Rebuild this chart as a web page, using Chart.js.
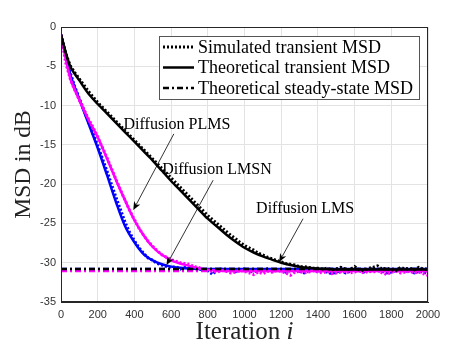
<!DOCTYPE html>
<html>
<head>
<meta charset="utf-8">
<script src="https://cdn.jsdelivr.net/npm/chart.js@4"></script>
<style>
  html, body { margin: 0; padding: 0; background: #fff; }
  #wrap { width: 474px; height: 348px; }
</style>
</head>
<body>
<div id="wrap"><canvas id="msdChart" width="474" height="348"></canvas></div>
<script>
// iterations
const itTheory = [0,50,100,150,200,250,300,350,400,450,500,550,600,650,700,750,800,850,900,950,1000,
  1050,1100,1150,1200,1250,1300,1350,1400,1450,1500,1550,1600,1650,1700,1750,1800,1850,1900,1950,2000];
const itSim = [];
for (let i = 0; i <= 2000; i += 25) itSim.push(i);

// theoretical transient MSD (dB)
const lmsTheory = [-1.0,-5.0,-6.8,-8.5,-9.8,-11.0,-12.2,-13.4,-14.6,-15.8,-17.0,-18.3,-19.6,-20.8,-22.0,-23.2,
  -24.4,-25.4,-26.4,-27.3,-28.1,-28.7,-29.2,-29.6,-30.0,-30.3,-30.5,-30.65,-30.75,-30.8,-30.85,
  -30.85,-30.85,-30.85,-30.85,-30.85,-30.85,-30.85,-30.85,-30.85,-30.85];
const lmsnTheory = [-1.0,-6.0,-9.2,-12.3,-15.4,-18.8,-22.3,-25.4,-27.4,-28.9,-29.7,-30.2,-30.5,-30.65,-30.75,-30.8,
  -30.8,-30.8,-30.8,-30.8,-30.8,-30.8,-30.8,-30.8,-30.8,-30.8,-30.8,-30.8,-30.8,-30.8,-30.8,
  -30.8,-30.8,-30.8,-30.8,-30.8,-30.8,-30.8,-30.8,-30.8,-30.8];
const plmsTheory = [-1.0,-6.5,-9.3,-11.8,-14.0,-16.7,-19.5,-22.1,-24.6,-26.5,-28.0,-29.0,-29.7,-30.1,-30.4,-30.7,
  -30.9,-31.0,-31.05,-31.05,-31.05,-31.05,-31.05,-31.05,-31.05,-31.05,-31.05,-31.05,-31.05,-31.05,-31.05,
  -31.05,-31.05,-31.05,-31.05,-31.05,-31.05,-31.05,-31.05,-31.05,-31.05];

// simulated transient MSD (dB), every 25 iterations
const lmsSim = [-1.0,-3.3,-4.9,-5.8,-6.6,-7.4,-8.2,-8.9,-9.6,-10.2,-10.8,-11.4,-12.0,-12.6,-13.2,-13.8,-14.4,-15.0,
  -15.6,-16.2,-16.8,-17.4,-18.0,-18.6,-19.2,-19.8,-20.4,-21.0,-21.6,-22.2,-22.8,-23.4,-24.0,-24.5,-25.0,-25.5,
  -26.0,-26.5,-26.9,-27.4,-27.8,-28.1,-28.4,-28.8,-29.0,-29.3,-29.5,-29.7,-29.9,-30.1,-30.2,-30.3,-30.5,-30.5,
  -30.6,-30.7,-30.7,-30.8,-30.7,-30.9,-30.8,-30.6,-30.8,-30.9,-30.5,-30.9,-31.0,-30.7,-30.6,-30.4,-30.8,-30.7,
  -30.9,-31.0,-30.6,-30.8,-30.7,-30.9,-30.6,-30.8,-30.9];
const lmsnSim = [-1.0,-3.8,-5.8,-7.6,-9.1,-10.6,-12.1,-13.6,-15.1,-16.7,-18.3,-20.0,-21.7,-23.3,-24.9,-26.2,-27.2,
  -28.1,-28.8,-29.4,-29.7,-30.1,-30.3,-30.5,-30.6,-30.5,-30.8,-30.6,-30.7,-30.9,-30.8,-30.9,-31.0,-31.5,-30.9,
  -30.8,-31.0,-30.9,-31.1,-31.0,-30.8,-31.0,-31.2,-30.9,-31.0,-30.8,-31.1,-30.9,-31.0,-31.2,-31.0,-30.8,-31.1,
  -31.3,-31.0,-30.9,-31.1,-30.9,-31.2,-31.4,-31.2,-31.0,-31.3,-31.1,-30.9,-31.0,-31.2,-30.9,-30.8,-31.0,-31.1,
  -31.3,-31.2,-31.0,-30.9,-31.1,-31.0,-31.3,-31.1,-31.2,-31.4];
const plmsSim = [-1.0,-4.5,-6.6,-8.0,-9.3,-10.5,-11.7,-12.8,-14.0,-15.3,-16.6,-18.0,-19.4,-20.8,-22.1,-23.4,-24.5,
  -25.6,-26.5,-27.3,-27.9,-28.5,-29.0,-29.3,-29.6,-29.8,-30.0,-30.1,-30.2,-30.5,-30.6,-30.8,-31.0,-31.1,-31.2,
  -31.0,-31.1,-31.3,-31.2,-31.0,-31.1,-31.3,-31.5,-31.2,-31.4,-31.1,-31.2,-31.0,-31.1,-31.3,-31.6,-31.2,-31.1,
  -31.3,-31.2,-31.0,-31.2,-31.3,-31.1,-31.4,-31.3,-31.2,-31.1,-31.3,-31.2,-31.0,-31.3,-31.1,-31.2,-31.0,-31.3,
  -31.5,-31.2,-31.1,-31.3,-31.2,-31.1,-31.3,-31.2,-31.4,-31.6];

// theoretical steady-state MSD (dB)
const itSteady = [0, 2000];
const lmsSteady = -30.8;
const lmsnSteady = -30.8;
const plmsSteady = -31.05;

const xTicks = [0,200,400,600,800,1000,1200,1400,1600,1800,2000];
const yTicks = [0,-5,-10,-15,-20,-25,-30,-35];

// annotations: label position and arrow (data coords)
const notes = [
  { text: "Diffusion PLMS", x: 632, y: -12.4, from: [615, -13.6], to: [394, -23.3] },
  { text: "Diffusion LMSN", x: 850, y: -18.2, from: [829, -19.5], to: [575, -30.3] },
  { text: "Diffusion LMS", x: 1330, y: -23.1, from: [1319, -24.4], to: [1189, -29.9] }
];

const legendItems = [
  { label: "Simulated transient MSD", dash: [2, 2], width: 3 },
  { label: "Theoretical transient MSD", dash: [], width: 2.5 },
  { label: "Theoretical steady-state MSD", dash: [6, 3, 2, 3], width: 2.5 }
];

const serif = "'Liberation Serif', 'DejaVu Serif', serif";
const sans = "'Liberation Sans', Arial, sans-serif";

function pts(xs, ys) { return xs.map((x, i) => ({ x: x, y: ys[i] })); }
function flat(v) { return itSteady.map(x => ({ x: x, y: v })); }

function sim(data, color) {
  return { data: data, borderColor: color, borderWidth: 3, borderDash: [2, 2], pointRadius: 0, tension: 0 };
}
function theory(data, color) {
  return { data: data, borderColor: color, borderWidth: 2.5, pointRadius: 0, tension: 0.3 };
}
function steady(data, color) {
  return { data: data, borderColor: color, borderWidth: 2.5, borderDash: [6, 3, 2, 3], pointRadius: 0 };
}

const overlay = {
  id: "overlay",
  beforeDraw(chart) {
    const ctx = chart.ctx;
    ctx.save();
    ctx.fillStyle = "#fff";
    ctx.fillRect(0, 0, chart.width, chart.height);
    ctx.restore();
  },
  afterDatasetsDraw(chart) {
    const ctx = chart.ctx;
    const xs = chart.scales.x, ys = chart.scales.y;
    const a = chart.chartArea;
    ctx.save();

    // box
    ctx.strokeStyle = "#262626";
    ctx.lineWidth = 1;
    ctx.strokeRect(a.left + 0.5, a.top + 0.5, a.right - a.left - 1, a.bottom - a.top - 1);

    // annotations
    ctx.fillStyle = "#000";
    ctx.strokeStyle = "#000";
    ctx.font = "16px " + serif;
    ctx.textAlign = "center";
    ctx.textBaseline = "middle";
    notes.forEach(n => {
      ctx.fillText(n.text, xs.getPixelForValue(n.x), ys.getPixelForValue(n.y));
      const x1 = xs.getPixelForValue(n.from[0]), y1 = ys.getPixelForValue(n.from[1]);
      const x2 = xs.getPixelForValue(n.to[0]), y2 = ys.getPixelForValue(n.to[1]);
      const ang = Math.atan2(y2 - y1, x2 - x1);
      ctx.lineWidth = 0.8;
      ctx.beginPath();
      ctx.moveTo(x1, y1);
      ctx.lineTo(x2 - 6 * Math.cos(ang), y2 - 6 * Math.sin(ang));
      ctx.stroke();
      ctx.beginPath();
      ctx.moveTo(x2, y2);
      ctx.lineTo(x2 - 9 * Math.cos(ang - 0.4), y2 - 9 * Math.sin(ang - 0.4));
      ctx.lineTo(x2 - 6 * Math.cos(ang), y2 - 6 * Math.sin(ang));
      ctx.lineTo(x2 - 9 * Math.cos(ang + 0.4), y2 - 9 * Math.sin(ang + 0.4));
      ctx.closePath();
      ctx.fill();
    });

    // legend box
    const lx = 159, ly = 36, lw = 260, lh = 63;
    ctx.fillStyle = "#fff";
    ctx.fillRect(lx, ly, lw, lh);
    ctx.strokeStyle = "#555";
    ctx.lineWidth = 1;
    ctx.strokeRect(lx + 0.5, ly + 0.5, lw, lh);
    ctx.textAlign = "left";
    ctx.font = "18px " + serif;
    legendItems.forEach((it, i) => {
      const y = ly + 11 + i * 20.5;
      ctx.strokeStyle = "#000";
      ctx.lineWidth = it.width;
      ctx.setLineDash(it.dash);
      ctx.beginPath();
      ctx.moveTo(lx + 4, y);
      ctx.lineTo(lx + 35, y);
      ctx.stroke();
      ctx.setLineDash([]);
      ctx.fillStyle = "#000";
      ctx.fillText(it.label, lx + 39, y + 1);
    });

    // axis titles
    ctx.fillStyle = "#222";
    ctx.font = "23.5px " + serif;
    ctx.textAlign = "center";
    ctx.save();
    ctx.translate(24, (a.top + a.bottom) / 2);
    ctx.rotate(-Math.PI / 2);
    ctx.fillText("MSD in dB", 0, 0);
    ctx.restore();

    const t1 = "Iteration ";
    ctx.font = "25px " + serif;
    const w1 = ctx.measureText(t1).width;
    ctx.font = "italic 25px " + serif;
    const w2 = ctx.measureText("i").width;
    const cx = (a.left + a.right) / 2 - (w1 + w2) / 2;
    ctx.textAlign = "left";
    ctx.font = "25px " + serif;
    ctx.fillText(t1, cx, 332);
    ctx.font = "italic 25px " + serif;
    ctx.fillText("i", cx + w1, 332);
    ctx.restore();
  }
};

const chart = new Chart(document.getElementById("msdChart"), {
  type: "line",
  data: {
    datasets: [
      steady(flat(lmsSteady), "#000"),
      theory(pts(itTheory, lmsTheory), "#000"),
      sim(pts(itSim, lmsSim), "#000"),
      steady(flat(plmsSteady), "#ff00ff"),
      theory(pts(itTheory, plmsTheory), "#ff00ff"),
      sim(pts(itSim, plmsSim), "#ff00ff"),
      steady(flat(lmsnSteady), "#0000ff"),
      theory(pts(itTheory, lmsnTheory), "#0000ff"),
      sim(pts(itSim, lmsnSim), "#0000ff")
    ]
  },
  options: {
    responsive: false,
    animation: false,
    layout: { padding: { top: 27, right: 46, left: 0, bottom: 0 } },
    plugins: { legend: { display: false }, tooltip: { enabled: false } },
    scales: {
      x: {
        type: "linear",
        min: 0, max: 2000,
        afterFit(s) { s.height = 46; },
        afterBuildTicks(s) { s.ticks = xTicks.map(v => ({ value: v })); },
        grid: { color: "#e3e3e3", drawTicks: false },
        border: { color: "#262626" },
        ticks: { color: "#333", font: { family: sans, size: 11 }, padding: 6, maxRotation: 0,
                 callback: v => String(v) }
      },
      y: {
        type: "linear",
        min: -35, max: 0,
        afterFit(s) { s.width = 61; },
        afterBuildTicks(s) { s.ticks = yTicks.map(v => ({ value: v })); },
        grid: { color: "#e3e3e3", drawTicks: false },
        border: { color: "#262626" },
        ticks: { color: "#333", font: { family: sans, size: 11 }, padding: 5,
                 callback: v => String(v) }
      }
    }
  },
  plugins: [overlay]
});
</script>
</body>
</html>
